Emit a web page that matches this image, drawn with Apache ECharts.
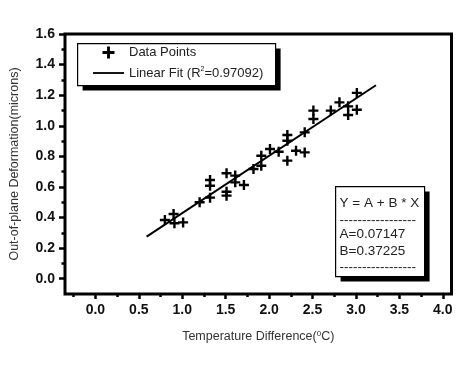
<!DOCTYPE html>
<html>
<head>
<meta charset="utf-8">
<script src="https://cdn.jsdelivr.net/npm/echarts@6/dist/echarts.min.js"></script>
<style>
html,body{margin:0;padding:0;background:#fff;}
#chart{width:474px;height:379px;}
</style>
</head>
<body>
<div id="chart"></div>
<script>
// ---- data ----
const dataX = [0.80, 0.90, 0.91, 1.01, 1.20, 1.32, 1.32, 1.32, 1.51, 1.51, 1.51, 1.61, 1.61, 1.71, 1.82, 1.91, 1.91, 2.01, 2.11, 2.21, 2.21, 2.21, 2.31, 2.41, 2.41, 2.51, 2.51, 2.71, 2.81, 2.91, 2.91, 3.01, 3.01];
const dataY = [0.384, 0.423, 0.363, 0.368, 0.50, 0.53, 0.645, 0.608, 0.69, 0.569, 0.543, 0.674, 0.63, 0.613, 0.717, 0.739, 0.804, 0.848, 0.83, 0.94, 0.902, 0.772, 0.837, 0.826, 0.957, 1.099, 1.044, 1.099, 1.153, 1.127, 1.07, 1.215, 1.105];
const fitX = [0.59, 3.23];
const fitY = [0.275, 1.265];
const xMajorTicks = [0.0, 0.5, 1.0, 1.5, 2.0, 2.5, 3.0, 3.5, 4.0];
const xMinorTicks = [-0.25, 0.25, 0.75, 1.25, 1.75, 2.25, 2.75, 3.25, 3.75];
const yMajorTicks = [0.0, 0.2, 0.4, 0.6, 0.8, 1.0, 1.2, 1.4, 1.6];
const yMinorTicks = [0.1, 0.3, 0.5, 0.7, 0.9, 1.1, 1.3, 1.5];
const seriesNames = ['Data Points', 'Linear Fit'];
const r2Text = '0.97092';
const fitBoxLines = ['Y = A + B * X', '-----------------', 'A=0.07147', 'B=0.37225', '-----------------'];
const xTitle = ['Temperature Difference(', '0', 'C)'];
const yTitle = 'Out-of-plane Deformation(microns)';

const plusPath = 'path://M3.8,0 H6.2 V3.8 H10 V6.2 H6.2 V10 H3.8 V6.2 H0 V3.8 H3.8 Z';
const linePath = 'path://M0,0 H34 V2 H0 Z';

const chart = echarts.init(document.getElementById('chart'), null, {renderer: 'canvas'});
const scatterData = dataX.map((x, i) => [x, dataY[i]]);
const fitData = fitX.map((x, i) => [x, fitY[i]]);

const X_MIN = -0.35, X_MAX = 4.1, Y_MIN = -0.1, Y_MAX = 1.6;
const FONT = 'Arial, Liberation Sans, sans-serif';
const tickLabelStyle = {fontFamily: FONT, fontWeight: 'bold', fontSize: 14, color: '#111'};

function boxWithShadow(left, top, w, h, children) {
  return {
    type: 'group', left: left, top: top, z: 10,
    children: [
      {type: 'rect', z: 0, shape: {x: 5, y: 5, width: w, height: h}, style: {fill: '#000'}},
      {type: 'rect', z: 1, shape: {x: 0, y: 0, width: w, height: h}, style: {fill: '#fff', stroke: '#000', lineWidth: 1.2}}
    ].concat(children || [])
  };
}

const option = {
  animation: false,
  backgroundColor: '#fff',
  grid: {left: 63.5, right: 22.5, top: 34, bottom: 85, show: true, borderColor: '#000', borderWidth: 3, backgroundColor: 'transparent'},
  xAxis: [
    {
      type: 'value', min: X_MIN, max: X_MAX, position: 'bottom',
      axisLine: {show: false, onZero: false}, splitLine: {show: false},
      axisTick: {show: true, inside: false, length: 5, lineStyle: {color: '#000', width: 2.5}, customValues: xMajorTicks},
      axisLabel: {show: true, margin: 9, customValues: xMajorTicks, formatter: v => v.toFixed(1), ...tickLabelStyle},
      name: '{a|' + xTitle[0] + '}{s|' + xTitle[1] + '}{a|' + xTitle[2] + '}',
      nameLocation: 'middle', nameGap: 36,
      nameTextStyle: {rich: {
        a: {fontFamily: FONT, fontSize: 12.5, color: '#333', lineHeight: 14},
        s: {fontFamily: FONT, fontSize: 8, color: '#333', verticalAlign: 'top', lineHeight: 14, padding: [0, 0, 6, 0]}
      }}
    },
    {
      type: 'value', min: X_MIN, max: X_MAX, position: 'bottom',
      axisLine: {show: false, onZero: false}, splitLine: {show: false},
      axisTick: {show: true, inside: false, length: 3, lineStyle: {color: '#000', width: 2.5}, customValues: xMinorTicks},
      axisLabel: {show: false}
    }
  ],
  yAxis: [
    {
      type: 'value', min: Y_MIN, max: Y_MAX, position: 'left',
      axisLine: {show: false, onZero: false}, splitLine: {show: false},
      axisTick: {show: true, inside: false, length: 6, lineStyle: {color: '#000', width: 2.5}, customValues: yMajorTicks},
      axisLabel: {show: true, margin: 10, customValues: yMajorTicks, formatter: v => v.toFixed(1), ...tickLabelStyle},
      name: yTitle, nameLocation: 'middle', nameGap: 44,
      nameTextStyle: {fontFamily: FONT, fontSize: 12.5, color: '#333'}
    },
    {
      type: 'value', min: Y_MIN, max: Y_MAX, position: 'left',
      axisLine: {show: false, onZero: false}, splitLine: {show: false},
      axisTick: {show: true, inside: false, length: 3.5, lineStyle: {color: '#000', width: 2.5}, customValues: yMinorTicks},
      axisLabel: {show: false}
    }
  ],
  legend: {
    orient: 'vertical', left: 77, top: 43, z: 20,
    padding: [3, 9, 8, 16], itemGap: 7, itemWidth: 31, itemHeight: 12,
    backgroundColor: 'transparent', borderWidth: 0,
    data: [
      {name: seriesNames[0], icon: plusPath, itemStyle: {color: '#000', opacity: 1}},
      {name: seriesNames[1], icon: linePath, itemStyle: {color: '#000', opacity: 1}}
    ],
    formatter: name => name === seriesNames[1]
      ? '{t|' + seriesNames[1] + ' (R}{s|2}{t|=' + r2Text + ')}'
      : '{t|' + name + '}',
    textStyle: {
      rich: {
        t: {fontFamily: FONT, fontSize: 13, color: '#222', lineHeight: 14},
        s: {fontFamily: FONT, fontSize: 7, color: '#222', verticalAlign: 'top', lineHeight: 14, padding: [0, 0, 6, 0]}
      }
    }
  },
  series: [
    {
      name: seriesNames[0], type: 'scatter', xAxisIndex: 0, yAxisIndex: 0,
      data: scatterData, symbol: plusPath, symbolSize: 10,
      itemStyle: {color: '#000', opacity: 1}, z: 3
    },
    {
      name: seriesNames[1], type: 'line', xAxisIndex: 0, yAxisIndex: 0,
      data: fitData, symbol: 'none', showSymbol: false,
      lineStyle: {color: '#000', width: 2}, itemStyle: {color: '#000'}, z: 2
    }
  ],
  graphic: [
    boxWithShadow(77, 43, 198, 42),
    boxWithShadow(335, 186, 89, 90, fitBoxLines.map((t, i) => ({
      type: 'text', z: 2, x: 4, y: [17, 33.5, 48, 64.5, 81][i],
      style: {text: t, fontFamily: FONT, fontSize: 13.5, fill: '#222', verticalAlign: 'middle'}
    })))
  ]
};
chart.setOption(option);
</script>
</body>
</html>
